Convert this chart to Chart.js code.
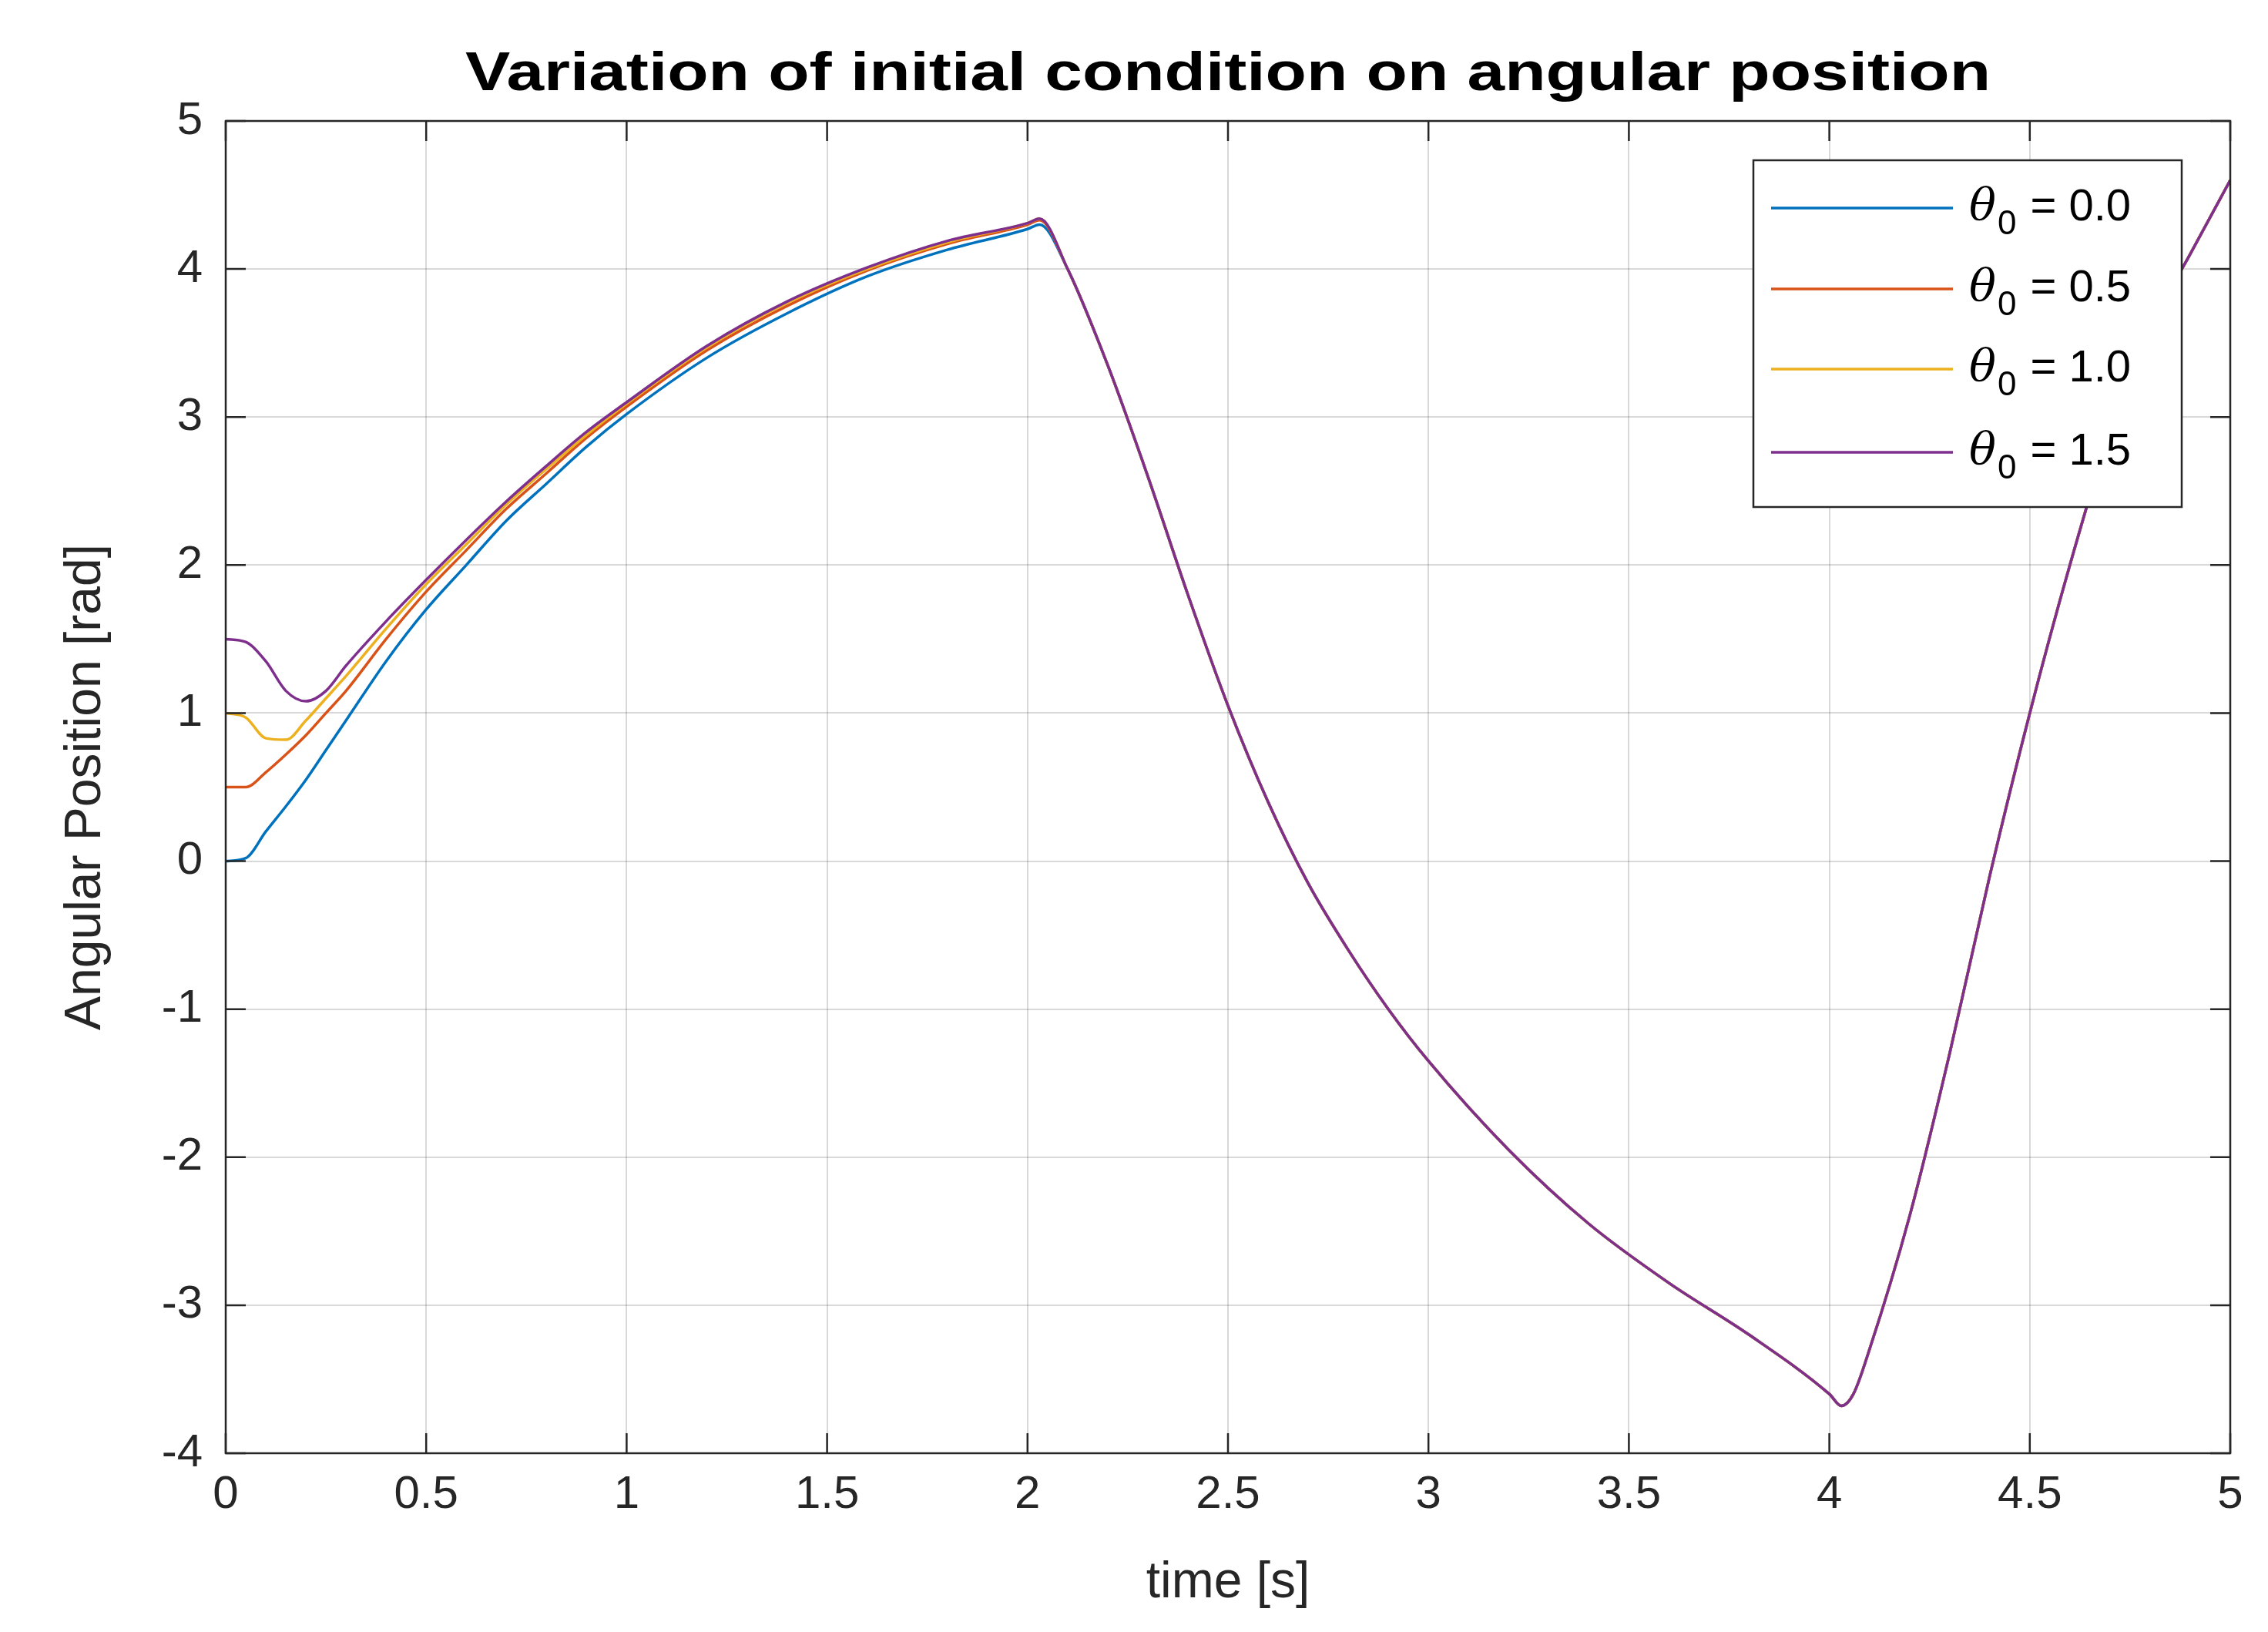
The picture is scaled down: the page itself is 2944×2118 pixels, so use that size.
<!DOCTYPE html>
<html>
<head>
<meta charset="utf-8">
<script src="https://cdn.jsdelivr.net/npm/chart.js@4/dist/chart.umd.min.js"></script>
<style>
  html, body { margin: 0; padding: 0; background: #fff; }
  #wrap { width: 2944px; height: 2118px; }
</style>
</head>
<body>
<div id="wrap"><canvas id="c"></canvas></div>
<script>
// Начальный участок: у каждой кривой свой ход
const timeStart = [0, 0.05, 0.1, 0.15, 0.2, 0.25, 0.3, 0.4, 0.5, 0.6, 0.7, 0.8, 0.9, 1.0, 1.2, 1.4, 1.6, 1.8, 2.0, 2.03];
const theta00 = [0, 0.02, 0.2, 0.37, 0.55, 0.75, 0.95, 1.35, 1.7, 2.0, 2.3, 2.55, 2.8, 3.02, 3.4, 3.7, 3.95, 4.13, 4.27, 4.3];
const theta05 = [0.5, 0.5, 0.6, 0.72, 0.85, 1.0, 1.15, 1.5, 1.82, 2.1, 2.38, 2.62, 2.86, 3.07, 3.45, 3.75, 3.99, 4.17, 4.3, 4.33];
const theta10 = [1.0, 0.97, 0.83, 0.82, 0.95, 1.1, 1.25, 1.57, 1.87, 2.14, 2.41, 2.65, 2.88, 3.09, 3.47, 3.77, 4.0, 4.18, 4.31, 4.34];
const theta15 = [1.5, 1.48, 1.35, 1.15, 1.08, 1.15, 1.32, 1.62, 1.9, 2.17, 2.43, 2.67, 2.9, 3.1, 3.48, 3.78, 4.01, 4.19, 4.31, 4.34];

// Общий хвост после t = 2 с
const timeTail = [2.1, 2.2, 2.3, 2.4, 2.5, 2.6, 2.7, 2.8, 2.9, 3.0, 3.2, 3.4, 3.6, 3.8, 4.0, 4.03, 4.06, 4.1, 4.2, 4.3, 4.4, 4.5, 4.6, 4.7, 4.8, 4.9, 5.0];
const tailValues = [4.0, 3.35, 2.6, 1.8, 1.05, 0.4, -0.15, -0.6, -1.0, -1.35, -1.95, -2.45, -2.85, -3.2, -3.6, -3.68, -3.6, -3.3, -2.4, -1.3, -0.1, 1.0, 2.0, 2.9, 3.6, 4.1, 4.6];

const seriesLabels = ['0.0', '0.5', '1.0', '1.5'];
const seriesColors = ['#0072BD', '#D95319', '#EDB120', '#7E2F8E'];
const seriesStart = [theta00, theta05, theta10, theta15];

function buildPoints(start) {
  const pts = timeStart.map((t, i) => ({ x: t, y: start[i] }));
  timeTail.forEach((t, i) => pts.push({ x: t, y: tailValues[i] }));
  return pts;
}

const FONT = '"Liberation Sans", Arial, sans-serif';
const TEXT = '#262626';

// Заголовок, подписи осей, засечки и легенда в стиле MATLAB
const decor = {
  id: 'decor',
  afterDraw(chart) {
    const { ctx, chartArea: a, scales } = chart;
    ctx.save();
    ctx.strokeStyle = '#262626';
    ctx.lineWidth = 2.5;
    const tl = 26;
    scales.x.ticks.forEach(t => {
      const px = scales.x.getPixelForValue(t.value);
      ctx.beginPath();
      ctx.moveTo(px, a.bottom); ctx.lineTo(px, a.bottom - tl);
      ctx.moveTo(px, a.top); ctx.lineTo(px, a.top + tl);
      ctx.stroke();
    });
    scales.y.ticks.forEach(t => {
      const py = scales.y.getPixelForValue(t.value);
      ctx.beginPath();
      ctx.moveTo(a.left, py); ctx.lineTo(a.left + tl, py);
      ctx.moveTo(a.right, py); ctx.lineTo(a.right - tl, py);
      ctx.stroke();
    });
    ctx.strokeRect(a.left, a.top, a.right - a.left, a.bottom - a.top);

    // заголовок
    ctx.fillStyle = '#000';
    ctx.textAlign = 'center';
    ctx.textBaseline = 'middle';
    ctx.font = 'bold 70px ' + FONT;
    const title = 'Variation of initial condition on angular position';
    const tw = ctx.measureText(title).width;
    ctx.save();
    ctx.translate((a.left + a.right) / 2, 98);
    ctx.scale(1980 / tw, 1);
    ctx.fillText(title, 0, 0);
    ctx.restore();

    // подписи осей
    ctx.fillStyle = TEXT;
    ctx.font = '66px ' + FONT;
    ctx.fillText('time [s]', (a.left + a.right) / 2, 2055);
    ctx.save();
    ctx.translate(112, (a.top + a.bottom) / 2);
    ctx.rotate(-Math.PI / 2);
    ctx.fillText('Angular Position [rad]', 0, 0);
    ctx.restore();

    // легенда
    const lx = 2276, ly = 208, lw = 556, lh = 450;
    ctx.fillStyle = '#fff';
    ctx.fillRect(lx, ly, lw, lh);
    ctx.strokeStyle = '#262626';
    ctx.lineWidth = 2.5;
    ctx.strokeRect(lx, ly, lw, lh);
    const rows = [270, 375, 479, 587];
    seriesLabels.forEach((lab, i) => {
      ctx.strokeStyle = seriesColors[i];
      ctx.lineWidth = 3.5;
      ctx.beginPath();
      ctx.moveTo(2299, rows[i]); ctx.lineTo(2535, rows[i]);
      ctx.stroke();
      ctx.fillStyle = '#000';
      ctx.textAlign = 'left';
      ctx.font = 'italic 58px "DejaVu Serif", serif';
      ctx.fillText('θ', 2556, rows[i]);
      const w1 = ctx.measureText('θ').width;
      ctx.font = '44px ' + FONT;
      ctx.fillText('0', 2556 + w1 + 2, rows[i] + 22);
      const w2 = ctx.measureText('0').width;
      ctx.font = '58px ' + FONT;
      ctx.fillText(' = ' + lab, 2556 + w1 + w2 + 4, rows[i]);
    });
    ctx.restore();
  }
};

new Chart(document.getElementById('c'), {
  type: 'line',
  data: {
    datasets: seriesStart.map((s, i) => ({
      label: 'θ0 = ' + seriesLabels[i],
      data: buildPoints(s),
      borderColor: seriesColors[i],
      borderWidth: 3.5,
      pointRadius: 0,
      cubicInterpolationMode: 'monotone',
      order: seriesStart.length - i,
      fill: false
    }))
  },
  options: {
    responsive: true,
    maintainAspectRatio: false,
    animation: false,
    layout: { padding: { left: 0, right: 49, top: 157, bottom: 0 } },
    plugins: { legend: { display: false }, tooltip: { enabled: false } },
    scales: {
      x: {
        type: 'linear',
        min: 0, max: 5,
        afterFit(scale) { scale.height = 232; },
        grid: { color: 'rgba(0,0,0,0.15)', lineWidth: 2, drawTicks: false },
        border: { display: false },
        ticks: {
          stepSize: 0.5, padding: 18, color: TEXT,
          font: { size: 60, family: FONT },
          callback: v => String(v)
        }
      },
      y: {
        min: -4, max: 5,
        afterFit(scale) { scale.width = 293; },
        grid: { color: 'rgba(0,0,0,0.15)', lineWidth: 2, drawTicks: false },
        border: { display: false },
        ticks: {
          stepSize: 1, padding: 30, color: TEXT,
          font: { size: 60, family: FONT }
        }
      }
    }
  },
  plugins: [decor]
});
</script>
</body>
</html>
